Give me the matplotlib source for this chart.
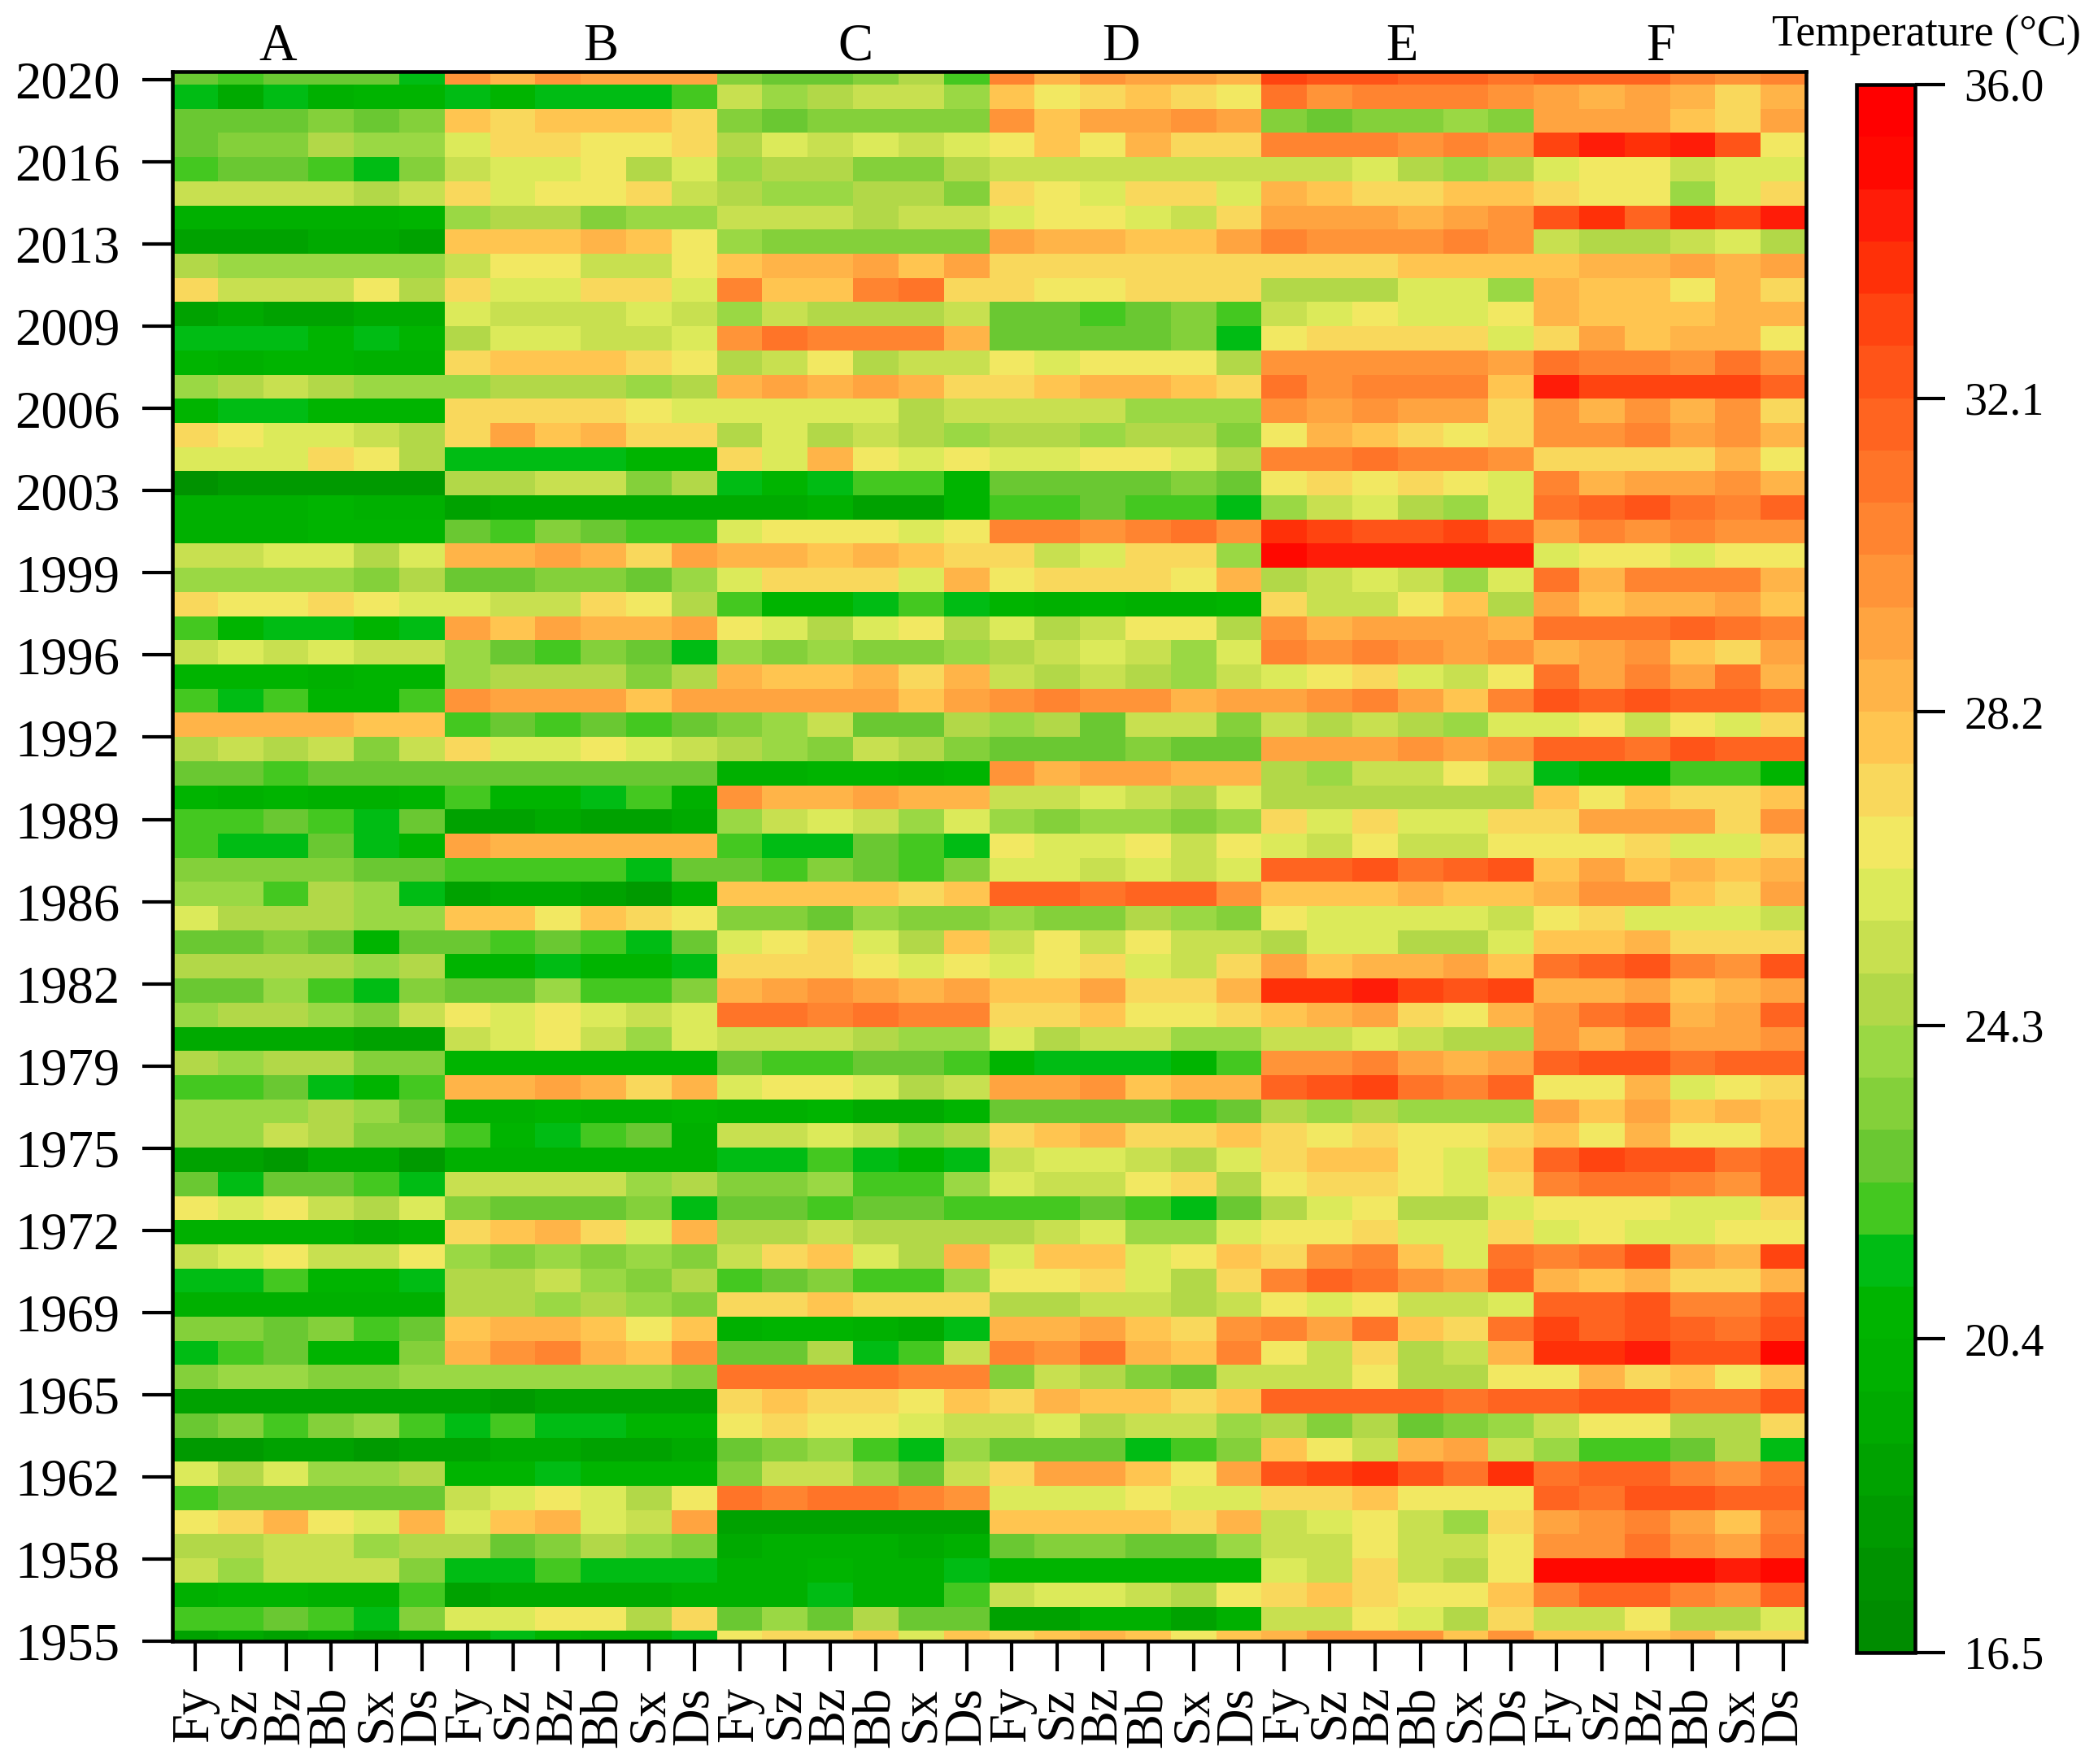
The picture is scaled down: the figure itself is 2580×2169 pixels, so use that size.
import numpy as np
import matplotlib
matplotlib.use("Agg")
import matplotlib.pyplot as plt
from matplotlib.colors import ListedColormap, BoundaryNorm
from matplotlib.transforms import blended_transform_factory

plt.rcParams['font.family'] = ['Liberation Serif', 'DejaVu Serif']

# ---------------- data ----------------
years = list(range(2020, 1954, -1))          # rows, top to bottom
groups = ["A", "B", "C", "D", "E", "F"]
sub_labels = ["Fy", "Sz", "Bz", "Bb", "Sx", "Ds"]
ytick_labels = ["2020", "2016", "2013", "2009", "2006", "2003", "1999", "1996",
                "1992", "1989", "1986", "1982", "1979", "1975", "1972", "1969",
                "1965", "1962", "1958", "1955"]
cbar_ticks = [16.5, 20.4, 24.3, 28.2, 32.1, 36.0]
cbar_colors = ["#008C00", "#009200", "#009A00", "#00A200", "#00AA00", "#00B000",
               "#00B400", "#00BC14", "#44C820", "#6AC832", "#84D03A", "#9AD844",
               "#B2D848", "#C8E050", "#DCEA5A", "#F2E862", "#F9D85C", "#FFC550",
               "#FFB448", "#FFA440", "#FF9438", "#FF8430", "#FF7428", "#FF6420",
               "#FF5418", "#FF4410", "#FF3008", "#FF1C08", "#FF0800", "#FF0000"]

A = [
    [22.7, 22, 22.7, 22.7, 22.7, 21.4],  # 2020
    [21.4, 19.4, 21.4, 20.1, 20.7, 20.7],
    [22.7, 22.7, 22.7, 23.3, 22.7, 23.3],
    [22.7, 23.3, 23.3, 24.6, 24, 24],
    [22, 22.7, 22.7, 22, 21.4, 23.3],
    [25.3, 25.3, 25.3, 25.3, 24.6, 25.3],
    [20.1, 20.1, 20.1, 20.1, 20.1, 20.7],
    [18.8, 18.8, 18.8, 19.4, 19.4, 18.8],
    [24.6, 24, 24, 24, 24, 24],
    [27.2, 25.3, 25.3, 25.3, 26.6, 24.6],
    [18.8, 19.4, 18.8, 18.8, 19.4, 19.4],  # 2010
    [21.4, 21.4, 21.4, 20.7, 21.4, 20.7],
    [20.7, 20.1, 20.7, 20.7, 20.1, 20.1],
    [24, 24.6, 25.3, 24.6, 24, 24],
    [20.7, 21.4, 21.4, 20.7, 20.7, 20.7],
    [27.2, 26.6, 25.9, 25.9, 25.3, 24.6],
    [25.9, 25.9, 25.9, 27.2, 26.6, 24.6],
    [17.5, 18.1, 18.1, 18.1, 18.1, 18.1],
    [20.1, 20.1, 20.1, 20.7, 20.1, 20.1],
    [20.1, 20.1, 20.1, 20.7, 20.7, 20.7],
    [25.3, 25.3, 25.9, 25.9, 24.6, 25.9],  # 2000
    [24, 24, 24, 24, 23.3, 24.6],
    [27.2, 26.6, 26.6, 27.2, 26.6, 25.9],
    [22, 20.7, 21.4, 21.4, 20.7, 21.4],
    [25.3, 25.9, 25.3, 25.9, 25.3, 25.3],
    [20.7, 20.7, 20.7, 20.1, 20.7, 20.7],
    [22, 21.4, 22, 20.7, 20.7, 22],
    [28.5, 28.5, 28.5, 28.5, 27.9, 27.9],
    [24.6, 25.3, 24.6, 25.3, 23.3, 25.3],
    [22.7, 22.7, 22, 22.7, 22.7, 22.7],
    [20.7, 20.1, 20.7, 20.1, 20.1, 20.7],  # 1990
    [22, 22, 22.7, 22, 21.4, 22.7],
    [22, 21.4, 21.4, 22.7, 21.4, 20.7],
    [23.3, 23.3, 23.3, 23.3, 22.7, 22.7],
    [24, 24, 22, 24.6, 24, 21.4],
    [25.9, 24.6, 24.6, 24.6, 24, 24],
    [22.7, 22.7, 23.3, 22.7, 20.7, 22.7],
    [24.6, 24.6, 24.6, 24.6, 24, 24.6],
    [22.7, 22.7, 24, 22, 21.4, 23.3],
    [24, 24.6, 24.6, 24, 23.3, 25.3],
    [19.4, 19.4, 19.4, 19.4, 18.8, 18.8],  # 1980
    [24.6, 24, 24.6, 24.6, 23.3, 23.3],
    [22, 22, 22.7, 21.4, 20.7, 22],
    [24, 24, 24, 24.6, 24, 22.7],
    [24, 24, 25.3, 24.6, 23.3, 23.3],
    [18.8, 18.8, 18.1, 19.4, 19.4, 18.1],
    [22.7, 21.4, 22.7, 22.7, 22, 21.4],
    [26.6, 25.9, 26.6, 25.3, 24.6, 25.9],
    [20.1, 20.1, 20.1, 20.1, 19.4, 20.1],
    [25.3, 25.9, 26.6, 25.3, 25.3, 26.6],
    [21.4, 21.4, 22, 20.7, 20.7, 21.4],  # 1970
    [20.1, 20.1, 20.1, 20.1, 20.1, 20.1],
    [23.3, 23.3, 22.7, 23.3, 22, 22.7],
    [21.4, 22, 22.7, 20.7, 20.7, 23.3],
    [23.3, 24, 24, 23.3, 23.3, 24],
    [18.8, 18.8, 18.8, 18.8, 18.8, 18.8],
    [22.7, 23.3, 22, 23.3, 24, 22],
    [18.1, 18.1, 18.8, 18.8, 18.1, 18.8],
    [25.9, 24.6, 25.9, 24, 24, 24.6],
    [22, 22.7, 22.7, 22.7, 22.7, 22.7],
    [26.6, 27.2, 28.5, 26.6, 25.9, 28.5],  # 1960
    [24.6, 24.6, 25.3, 25.3, 24, 24.6],
    [25.3, 24, 25.3, 25.3, 25.3, 23.3],
    [20.1, 20.7, 20.7, 20.1, 20.1, 22],
    [22, 22, 22.7, 22, 21.4, 23.3],
    [18.8, 19.4, 18.8, 19.4, 18.8, 19.4],  # 1955
]

B = [
    [29.8, 28.5, 29.8, 29.2, 29.2, 29.2],  # 2020
    [21.4, 20.7, 21.4, 21.4, 21.4, 22],
    [27.9, 27.2, 27.9, 27.9, 27.9, 27.2],
    [25.9, 27.2, 27.2, 26.6, 26.6, 27.2],
    [25.3, 25.9, 25.9, 26.6, 24.6, 25.9],
    [27.2, 25.9, 26.6, 26.6, 27.2, 25.3],
    [24, 24.6, 24.6, 23.3, 24, 24],
    [27.9, 27.9, 27.9, 28.5, 27.9, 26.6],
    [25.3, 26.6, 26.6, 25.3, 25.3, 26.6],
    [27.2, 25.9, 25.9, 27.2, 27.2, 25.9],
    [25.9, 25.3, 25.3, 25.3, 25.9, 25.3],  # 2010
    [24.6, 25.9, 25.9, 25.3, 25.3, 25.9],
    [27.2, 27.9, 27.9, 27.9, 27.2, 26.6],
    [24, 24.6, 24.6, 24.6, 24, 24.6],
    [27.2, 27.2, 27.2, 27.2, 26.6, 25.9],
    [27.2, 29.2, 27.9, 28.5, 27.2, 27.2],
    [21.4, 21.4, 21.4, 21.4, 20.7, 20.7],
    [24.6, 24.6, 25.3, 25.3, 23.3, 24.6],
    [18.8, 19.4, 19.4, 19.4, 19.4, 19.4],
    [22.7, 22, 23.3, 22.7, 22, 22],
    [28.5, 28.5, 29.2, 28.5, 27.2, 29.2],  # 2000
    [22.7, 22.7, 23.3, 23.3, 22.7, 24],
    [25.9, 25.3, 25.3, 27.2, 26.6, 24.6],
    [29.2, 27.9, 29.2, 28.5, 28.5, 29.2],
    [24, 22.7, 22, 23.3, 22.7, 21.4],
    [24, 24.6, 24.6, 24.6, 23.3, 24.6],
    [29.8, 29.2, 29.2, 29.2, 27.9, 29.2],
    [22, 22.7, 22, 22.7, 22, 22.7],
    [27.2, 25.9, 25.9, 26.6, 25.9, 25.3],
    [22.7, 22.7, 22.7, 22.7, 22.7, 22.7],
    [22, 20.7, 20.7, 21.4, 22, 20.1],  # 1990
    [18.8, 18.8, 19.4, 18.8, 18.8, 19.4],
    [29.2, 28.5, 28.5, 28.5, 28.5, 28.5],
    [22, 22, 22, 22, 21.4, 22.7],
    [18.8, 19.4, 19.4, 18.8, 18.1, 20.1],
    [27.9, 27.9, 26.6, 27.9, 27.2, 26.6],
    [22.7, 22, 22.7, 22, 21.4, 22.7],
    [20.7, 20.7, 21.4, 20.7, 20.7, 21.4],
    [22.7, 22.7, 24, 22, 22, 23.3],
    [26.6, 25.9, 26.6, 25.9, 25.3, 25.9],
    [25.3, 25.9, 26.6, 25.3, 24, 25.9],  # 1980
    [20.7, 20.7, 20.7, 20.7, 20.7, 20.7],
    [28.5, 28.5, 29.2, 28.5, 27.2, 28.5],
    [20.1, 20.1, 20.7, 20.1, 20.1, 20.7],
    [22, 20.7, 21.4, 22, 22.7, 20.1],
    [20.1, 20.1, 20.1, 20.1, 20.1, 20.1],
    [25.3, 25.3, 25.3, 25.3, 24, 24.6],
    [23.3, 22.7, 22.7, 22.7, 23.3, 21.4],
    [27.2, 27.9, 28.5, 27.2, 25.9, 28.5],
    [24, 23.3, 24, 23.3, 24, 23.3],
    [24.6, 24.6, 25.3, 24, 23.3, 24.6],  # 1970
    [24.6, 24.6, 24, 24.6, 24, 23.3],
    [27.9, 28.5, 28.5, 27.9, 26.6, 27.9],
    [28.5, 29.8, 30.5, 28.5, 27.9, 29.8],
    [24, 24, 24, 24, 24, 23.3],
    [18.8, 18.1, 18.8, 18.8, 18.8, 18.8],
    [21.4, 22, 21.4, 21.4, 20.7, 20.7],
    [18.8, 19.4, 19.4, 18.8, 18.8, 19.4],
    [20.7, 20.7, 21.4, 20.7, 20.7, 20.7],
    [25.3, 25.9, 26.6, 25.9, 24.6, 26.6],
    [25.9, 27.9, 28.5, 25.9, 25.3, 29.2],  # 1960
    [24.6, 22.7, 23.3, 24.6, 24, 23.3],
    [21.4, 21.4, 22, 21.4, 21.4, 21.4],
    [18.8, 19.4, 19.4, 19.4, 19.4, 20.1],
    [25.9, 25.9, 26.6, 26.6, 24.6, 27.2],
    [19.4, 21.4, 20.7, 20.1, 20.1, 21.4],  # 1955
]

C = [
    [23.3, 22.7, 22.7, 23.3, 24.6, 22],  # 2020
    [25.3, 24, 24.6, 25.3, 25.3, 24],
    [23.3, 22.7, 23.3, 23.3, 23.3, 23.3],
    [24.6, 25.9, 25.3, 25.9, 25.3, 25.9],
    [24, 24.6, 24.6, 23.3, 23.3, 24.6],
    [24.6, 24, 24, 24.6, 24.6, 23.3],
    [25.3, 25.3, 25.3, 24.6, 25.3, 25.3],
    [24, 23.3, 23.3, 23.3, 23.3, 23.3],
    [27.9, 28.5, 28.5, 29.2, 27.9, 29.2],
    [30.5, 27.9, 27.9, 30.5, 31.1, 27.2],
    [24, 25.3, 24.6, 24.6, 24.6, 25.3],  # 2010
    [29.8, 31.1, 30.5, 30.5, 30.5, 28.5],
    [24.6, 25.3, 26.6, 24.6, 25.3, 25.3],
    [28.5, 29.2, 28.5, 29.2, 28.5, 27.2],
    [25.9, 25.9, 25.9, 25.9, 24.6, 25.3],
    [24.6, 25.9, 24.6, 25.3, 24.6, 24],
    [27.2, 25.9, 28.5, 26.6, 25.9, 26.6],
    [21.4, 20.7, 21.4, 22, 22, 20.7],
    [19.4, 19.4, 20.1, 18.8, 18.8, 20.7],
    [25.9, 26.6, 26.6, 26.6, 25.9, 26.6],
    [28.5, 28.5, 27.9, 28.5, 27.9, 27.2],  # 2000
    [25.9, 27.2, 27.2, 27.2, 25.9, 28.5],
    [22, 20.7, 20.7, 21.4, 22, 21.4],
    [26.6, 25.9, 24.6, 25.9, 26.6, 24.6],
    [24, 23.3, 24, 23.3, 23.3, 24],
    [28.5, 27.9, 27.9, 28.5, 27.2, 28.5],
    [29.2, 29.2, 29.2, 29.2, 27.9, 29.2],
    [23.3, 24, 25.3, 22.7, 22.7, 24.6],
    [24.6, 24, 23.3, 25.3, 24.6, 23.3],
    [20.1, 20.1, 20.7, 20.7, 20.1, 20.7],
    [29.8, 28.5, 28.5, 29.2, 28.5, 28.5],  # 1990
    [24, 25.3, 25.9, 25.3, 24, 25.9],
    [22, 21.4, 21.4, 22.7, 22, 21.4],
    [22.7, 22, 23.3, 22.7, 22, 23.3],
    [27.9, 27.9, 27.9, 27.9, 27.2, 27.9],
    [23.3, 23.3, 22.7, 24, 23.3, 23.3],
    [25.9, 26.6, 27.2, 25.9, 24.6, 27.9],
    [27.2, 27.2, 27.2, 26.6, 25.9, 26.6],
    [28.5, 29.2, 29.8, 29.2, 28.5, 29.2],
    [31.1, 31.1, 30.5, 31.1, 30.5, 30.5],
    [25.3, 25.3, 25.3, 24.6, 24, 24],  # 1980
    [22.7, 22, 22, 22.7, 22.7, 22],
    [25.9, 26.6, 26.6, 25.9, 24.6, 25.3],
    [20.1, 20.1, 20.7, 19.4, 19.4, 20.7],
    [25.3, 25.3, 25.9, 25.3, 24, 24.6],
    [21.4, 21.4, 22, 21.4, 20.7, 21.4],
    [23.3, 23.3, 24, 22, 22, 24],
    [22.7, 22.7, 22, 22.7, 22.7, 22],
    [24.6, 24.6, 25.3, 24.6, 24.6, 24.6],
    [25.3, 27.2, 27.9, 25.9, 24.6, 28.5],
    [22, 22.7, 23.3, 22, 22, 24],  # 1970
    [27.2, 27.2, 27.9, 27.2, 27.2, 27.2],
    [20.1, 20.7, 20.7, 20.1, 19.4, 21.4],
    [22.7, 22.7, 24.6, 21.4, 22, 25.3],
    [31.1, 31.1, 31.1, 31.1, 30.5, 30.5],
    [27.2, 27.9, 27.2, 27.2, 26.6, 27.9],
    [26.6, 27.2, 26.6, 26.6, 25.9, 25.3],
    [22.7, 23.3, 24, 22, 21.4, 24],
    [23.3, 25.3, 25.3, 24, 22.7, 25.3],
    [31.1, 30.5, 31.1, 31.1, 30.5, 29.8],
    [18.8, 18.8, 18.8, 18.8, 18.8, 18.8],  # 1960
    [19.4, 20.1, 20.1, 20.1, 19.4, 20.1],
    [20.1, 20.1, 20.7, 20.1, 20.1, 21.4],
    [20.1, 20.1, 21.4, 20.1, 20.1, 22],
    [22.7, 24, 22.7, 24.6, 22.7, 22.7],
    [26.6, 27.2, 27.2, 27.9, 25.9, 27.9],  # 1955
]

D = [
    [30.5, 28.5, 29.8, 29.2, 29.2, 28.5],  # 2020
    [27.9, 26.6, 27.2, 27.9, 27.2, 26.6],
    [29.8, 27.9, 29.2, 29.2, 29.8, 29.2],
    [26.6, 27.9, 26.6, 28.5, 27.2, 27.2],
    [25.3, 25.3, 25.3, 25.3, 25.3, 25.3],
    [27.2, 26.6, 25.9, 27.2, 27.2, 25.9],
    [25.9, 26.6, 26.6, 25.9, 25.3, 27.2],
    [29.2, 28.5, 28.5, 27.9, 27.9, 29.2],
    [27.2, 27.2, 27.2, 27.2, 27.2, 27.2],
    [27.2, 26.6, 26.6, 27.2, 27.2, 27.2],
    [22.7, 22.7, 22, 22.7, 23.3, 22],  # 2010
    [22.7, 22.7, 22.7, 22.7, 23.3, 21.4],
    [26.6, 25.9, 26.6, 26.6, 26.6, 24.6],
    [27.2, 27.9, 28.5, 28.5, 27.9, 27.2],
    [25.3, 25.3, 25.3, 24, 24, 24],
    [24.6, 24.6, 24, 24.6, 24.6, 23.3],
    [25.9, 25.9, 26.6, 26.6, 25.9, 24.6],
    [22.7, 22.7, 22.7, 22.7, 23.3, 22.7],
    [22, 22, 22.7, 22, 22, 21.4],
    [30.5, 30.5, 29.8, 30.5, 31.1, 29.8],
    [27.2, 25.3, 25.9, 27.2, 27.2, 24],  # 2000
    [26.6, 27.2, 27.2, 27.2, 26.6, 28.5],
    [20.7, 20.1, 20.7, 20.1, 20.1, 20.7],
    [25.9, 24.6, 25.3, 26.6, 26.6, 24.6],
    [24.6, 25.3, 25.9, 25.3, 24, 25.9],
    [25.3, 24.6, 25.3, 24.6, 24, 25.3],
    [29.8, 30.5, 29.8, 29.8, 28.5, 29.2],
    [24, 24.6, 22.7, 25.3, 25.3, 23.3],
    [22.7, 22.7, 22.7, 23.3, 22.7, 22.7],
    [29.8, 28.5, 29.2, 29.2, 28.5, 28.5],
    [25.3, 25.3, 25.9, 25.3, 24.6, 25.9],  # 1990
    [24, 23.3, 24, 24, 23.3, 24],
    [26.6, 25.9, 25.9, 26.6, 25.3, 26.6],
    [25.9, 25.9, 25.3, 25.9, 25.3, 25.9],
    [31.8, 31.8, 31.1, 31.8, 31.8, 29.8],
    [24, 23.3, 23.3, 24.6, 24, 23.3],
    [25.3, 26.6, 25.3, 26.6, 25.3, 25.3],
    [25.9, 26.6, 27.2, 25.9, 25.3, 27.2],
    [27.9, 27.9, 29.2, 27.2, 27.2, 28.5],
    [27.2, 27.2, 27.9, 26.6, 26.6, 27.2],
    [25.9, 24.6, 25.3, 25.3, 24, 24],  # 1980
    [20.7, 21.4, 21.4, 21.4, 20.7, 22],
    [29.2, 29.2, 29.8, 27.9, 28.5, 28.5],
    [22.7, 22.7, 22.7, 22.7, 22, 22.7],
    [27.2, 27.9, 28.5, 27.2, 27.2, 27.9],
    [25.3, 25.9, 25.9, 25.3, 24.6, 25.9],
    [25.9, 25.3, 25.3, 26.6, 27.2, 24.6],
    [22, 22, 22.7, 22, 21.4, 22.7],
    [24.6, 25.3, 25.9, 24, 24, 25.9],
    [25.9, 27.9, 27.9, 25.9, 26.6, 27.9],
    [26.6, 26.6, 27.2, 25.9, 24.6, 27.2],  # 1970
    [24.6, 24.6, 25.3, 25.3, 24.6, 25.3],
    [28.5, 28.5, 29.2, 27.9, 27.2, 29.8],
    [30.5, 29.8, 31.1, 28.5, 27.9, 30.5],
    [23.3, 25.3, 24.6, 23.3, 22.7, 25.3],
    [27.2, 28.5, 27.9, 27.9, 27.2, 27.9],
    [25.3, 25.9, 24.6, 25.3, 25.3, 24],
    [22.7, 22.7, 22.7, 21.4, 22, 23.3],
    [27.2, 29.2, 29.2, 27.9, 26.6, 29.2],
    [25.9, 25.9, 25.9, 26.6, 25.9, 25.9],
    [27.9, 27.9, 27.9, 27.9, 27.2, 28.5],  # 1960
    [22.7, 23.3, 23.3, 22.7, 22.7, 24],
    [20.7, 20.7, 20.7, 20.7, 20.7, 20.7],
    [25.3, 25.9, 25.9, 25.3, 24.6, 26.6],
    [18.8, 18.8, 20.1, 20.1, 18.8, 20.1],
    [27.2, 27.9, 28.5, 27.9, 26.6, 27.9],  # 1955
]

E = [
    [33.1, 32.4, 32.4, 31.8, 31.8, 31.1],  # 2020
    [31.1, 29.8, 30.5, 30.5, 30.5, 29.8],
    [23.3, 22.7, 23.3, 23.3, 24, 23.3],
    [30.5, 30.5, 30.5, 29.8, 30.5, 29.8],
    [25.3, 25.3, 25.9, 24.6, 24, 24.6],
    [28.5, 27.9, 27.2, 27.2, 27.9, 27.9],
    [29.2, 29.2, 29.2, 28.5, 29.2, 29.8],
    [30.5, 29.8, 29.8, 29.8, 30.5, 29.8],
    [27.2, 27.2, 27.2, 27.9, 27.9, 27.9],
    [24.6, 24.6, 24.6, 25.9, 25.9, 24],
    [25.3, 25.9, 26.6, 25.9, 25.9, 26.6],  # 2010
    [26.6, 27.2, 27.2, 27.2, 27.2, 25.9],
    [29.8, 29.8, 29.8, 29.8, 29.8, 29.2],
    [31.1, 29.8, 30.5, 30.5, 30.5, 27.9],
    [29.8, 29.2, 29.8, 29.2, 29.2, 27.2],
    [26.6, 28.5, 27.9, 27.2, 26.6, 27.2],
    [30.5, 30.5, 31.1, 30.5, 30.5, 29.8],
    [26.6, 27.2, 26.6, 27.2, 26.6, 25.9],
    [24, 25.3, 25.9, 24.6, 24, 25.9],
    [33.7, 33.1, 32.4, 32.4, 33.1, 31.8],
    [35, 34.4, 34.4, 34.4, 34.4, 34.4],  # 2000
    [24.6, 25.3, 25.9, 25.3, 24, 25.9],
    [27.2, 25.3, 25.3, 26.6, 27.9, 24.6],
    [29.8, 28.5, 29.2, 29.2, 29.2, 28.5],
    [30.5, 29.8, 30.5, 29.8, 29.2, 29.8],
    [25.9, 26.6, 27.2, 25.9, 25.3, 26.6],
    [29.2, 29.8, 30.5, 29.2, 27.9, 30.5],
    [25.3, 24.6, 25.3, 24.6, 24, 25.9],
    [29.2, 29.2, 29.2, 29.8, 29.2, 29.8],
    [24.6, 24, 25.3, 25.3, 26.6, 25.3],
    [24.6, 24.6, 24.6, 24.6, 24.6, 24.6],  # 1990
    [27.2, 25.9, 27.2, 25.9, 25.9, 27.2],
    [25.9, 25.3, 26.6, 25.3, 25.3, 26.6],
    [31.8, 31.8, 32.4, 31.1, 31.8, 32.4],
    [27.9, 27.9, 27.9, 28.5, 27.9, 27.9],
    [26.6, 25.9, 25.9, 25.9, 25.9, 25.3],
    [24.6, 25.9, 25.9, 24.6, 24.6, 25.9],
    [29.2, 27.9, 28.5, 28.5, 29.2, 27.9],
    [33.7, 33.7, 34.4, 33.1, 32.4, 33.1],
    [27.9, 28.5, 29.2, 27.2, 26.6, 28.5],
    [25.3, 25.3, 25.9, 25.3, 24.6, 24.6],  # 1980
    [29.8, 29.8, 30.5, 29.2, 28.5, 29.2],
    [31.8, 32.4, 33.1, 31.1, 30.5, 31.8],
    [24.6, 24, 24.6, 24, 24, 24],
    [27.2, 26.6, 27.2, 26.6, 26.6, 27.2],
    [27.2, 27.9, 27.9, 26.6, 25.9, 27.9],
    [26.6, 27.2, 27.2, 26.6, 25.9, 27.2],
    [24.6, 25.9, 26.6, 24.6, 24.6, 25.9],
    [26.6, 26.6, 27.2, 25.9, 25.9, 27.2],
    [27.2, 29.8, 30.5, 27.9, 25.9, 31.1],
    [30.5, 31.8, 31.1, 29.8, 29.2, 31.8],  # 1970
    [26.6, 25.9, 26.6, 25.3, 25.3, 25.9],
    [30.5, 29.2, 31.1, 27.9, 27.2, 31.1],
    [26.6, 25.3, 27.2, 24.6, 25.3, 28.5],
    [25.3, 25.3, 26.6, 24.6, 24.6, 26.6],
    [31.8, 31.8, 31.8, 31.8, 31.1, 31.8],
    [24.6, 23.3, 24.6, 22.7, 23.3, 24],
    [27.9, 26.6, 25.3, 28.5, 29.2, 25.3],
    [32.4, 33.1, 33.7, 32.4, 31.1, 33.7],
    [27.2, 27.2, 27.9, 26.6, 26.6, 26.6],
    [25.3, 25.9, 26.6, 25.3, 24, 27.2],  # 1960
    [25.3, 25.3, 26.6, 25.3, 25.3, 26.6],
    [25.9, 25.3, 27.2, 25.3, 24.6, 26.6],
    [27.2, 27.9, 27.2, 26.6, 26.6, 27.9],
    [25.3, 25.3, 26.6, 25.9, 24.6, 27.2],
    [28.5, 29.8, 29.8, 29.8, 27.9, 29.8],  # 1955
]

F = [
    [31.8, 31.8, 31.8, 30.5, 29.8, 30.5],  # 2020
    [29.2, 28.5, 29.2, 28.5, 27.2, 28.5],
    [29.2, 29.2, 29.2, 27.9, 27.2, 29.2],
    [33.1, 34.4, 33.7, 34.4, 32.4, 26.6],
    [25.9, 26.6, 26.6, 25.3, 25.9, 25.9],
    [27.2, 26.6, 26.6, 24, 25.9, 27.2],
    [32.4, 33.7, 31.8, 33.7, 33.1, 34.4],
    [25.3, 24.6, 24.6, 25.3, 25.9, 24.6],
    [27.9, 28.5, 28.5, 29.2, 28.5, 29.2],
    [28.5, 27.9, 27.9, 26.6, 28.5, 27.2],
    [28.5, 27.9, 27.9, 27.9, 28.5, 28.5],  # 2010
    [27.2, 29.2, 27.9, 28.5, 28.5, 26.6],
    [31.1, 30.5, 30.5, 29.8, 31.1, 29.8],
    [34.4, 33.1, 33.1, 33.1, 33.1, 31.8],
    [29.8, 28.5, 29.8, 28.5, 29.8, 27.2],
    [29.8, 29.8, 30.5, 29.2, 29.8, 28.5],
    [27.2, 27.2, 27.2, 27.2, 28.5, 26.6],
    [30.5, 28.5, 29.2, 29.2, 29.8, 28.5],
    [31.1, 31.8, 32.4, 31.1, 30.5, 31.8],
    [29.2, 30.5, 29.8, 30.5, 29.8, 29.8],
    [25.9, 26.6, 26.6, 25.9, 26.6, 26.6],  # 2000
    [31.1, 28.5, 30.5, 30.5, 30.5, 28.5],
    [29.2, 27.9, 28.5, 28.5, 29.2, 27.9],
    [31.1, 31.1, 31.1, 31.8, 31.1, 30.5],
    [28.5, 29.2, 29.8, 27.9, 27.2, 29.2],
    [31.1, 29.2, 30.5, 29.2, 31.1, 28.5],
    [32.4, 31.8, 32.4, 31.8, 31.8, 31.1],
    [25.9, 26.6, 25.3, 26.6, 25.9, 27.2],
    [31.8, 31.8, 31.1, 32.4, 31.8, 31.8],
    [21.4, 20.7, 20.7, 22, 22, 20.7],
    [27.9, 26.6, 27.9, 27.2, 27.2, 27.9],  # 1990
    [27.2, 29.2, 29.2, 29.2, 27.2, 29.8],
    [26.6, 26.6, 27.2, 25.9, 25.9, 27.2],
    [27.9, 29.2, 27.9, 28.5, 27.9, 28.5],
    [28.5, 29.8, 29.8, 27.9, 27.2, 29.2],
    [26.6, 27.2, 25.9, 25.9, 25.9, 25.3],
    [27.9, 27.9, 28.5, 27.2, 27.2, 27.2],
    [31.1, 31.8, 32.4, 30.5, 29.8, 32.4],
    [28.5, 28.5, 29.2, 27.9, 28.5, 29.2],
    [29.8, 31.1, 31.8, 28.5, 29.2, 31.8],
    [29.8, 28.5, 29.8, 29.2, 29.2, 29.8],  # 1980
    [31.8, 32.4, 32.4, 31.1, 31.8, 31.8],
    [26.6, 26.6, 28.5, 25.9, 26.6, 27.2],
    [29.2, 27.9, 29.2, 27.9, 28.5, 27.9],
    [27.9, 26.6, 28.5, 26.6, 26.6, 27.9],
    [31.8, 33.1, 32.4, 32.4, 31.1, 31.8],
    [30.5, 31.1, 31.1, 30.5, 29.8, 31.8],
    [26.6, 26.6, 26.6, 25.9, 25.9, 27.2],
    [25.9, 26.6, 25.9, 25.9, 26.6, 26.6],
    [30.5, 31.1, 32.4, 29.2, 28.5, 33.1],
    [28.5, 27.9, 28.5, 27.2, 27.2, 28.5],  # 1970
    [31.8, 31.8, 32.4, 30.5, 30.5, 31.8],
    [33.1, 31.8, 32.4, 31.8, 31.1, 32.4],
    [33.7, 33.7, 34.4, 32.4, 32.4, 35],
    [26.6, 28.5, 27.2, 27.9, 26.6, 27.9],
    [31.8, 32.4, 32.4, 31.1, 31.1, 32.4],
    [25.3, 26.6, 26.6, 24.6, 24.6, 27.2],
    [24, 22, 22, 22.7, 24.6, 21.4],
    [31.1, 31.8, 31.8, 30.5, 29.8, 31.1],
    [31.8, 31.1, 32.4, 32.4, 31.8, 31.8],
    [29.2, 29.8, 30.5, 29.2, 27.9, 30.5],  # 1960
    [29.8, 29.8, 31.1, 29.8, 29.2, 31.1],
    [35, 35, 35, 35, 34.4, 35],
    [30.5, 31.8, 31.8, 30.5, 29.8, 31.8],
    [25.3, 25.3, 26.6, 24.6, 24.6, 25.9],
    [27.9, 27.9, 27.9, 28.5, 27.2, 27.2],  # 1955
]

# ---------------- figure ----------------
W, H = 2580, 2169
fig = plt.figure(figsize=(W / 300, H / 300), dpi=300)
ax = fig.add_axes([212 / W, (H - 2018) / H, 2009 / W, 1930 / H])
cax = fig.add_axes([2283 / W, (H - 2032) / H, 72 / W, 1928 / H])

cmap = ListedColormap(cbar_colors)
bounds = np.linspace(cbar_ticks[0], cbar_ticks[-1], len(cbar_colors) + 1)
norm = BoundaryNorm(bounds, cmap.N)

Z = np.hstack([np.array(g, dtype=float) for g in (A, B, C, D, E, F)])
yr = np.array(years, dtype=float)
order = np.argsort(yr)
yr_sorted = yr[order]
Zs = Z[order]
yedges = np.concatenate([yr_sorted - 0.5, [yr_sorted[-1] + 0.5]])
xedges = np.arange(Z.shape[1] + 1)

mesh = ax.pcolormesh(xedges, yedges, Zs, cmap=cmap, norm=norm,
                     shading='flat', linewidth=0, antialiased=False)

ax.set_xlim(0, Z.shape[1])
ax.set_ylim(1955.07, 2020.04)

yt = np.linspace(1955.07, 2019.7, len(ytick_labels))
ax.set_yticks(yt)
ax.set_yticklabels(ytick_labels[::-1])
ax.set_xticks(np.arange(Z.shape[1]) + 0.5)
ax.set_xticklabels(sub_labels * len(groups), rotation=90)

ax.tick_params(axis='both', direction='out', length=8.9, width=1.0, colors='black')
ax.tick_params(axis='y', pad=6.5, labelsize=15.5)
ax.tick_params(axis='x', pad=4.5, labelsize=15.5)
for s in ax.spines.values():
    s.set_linewidth(1.1)

group_label_x = [2.33, 9.43, 15.05, 20.9, 27.1, 32.8]
trans = blended_transform_factory(ax.transData, ax.transAxes)
for name, gx in zip(groups, group_label_x):
    ax.text(gx, 1.0075, name, transform=trans, ha='center', va='baseline',
            fontsize=15.5)

cb = fig.colorbar(mesh, cax=cax, ticks=cbar_ticks)
cb.minorticks_off()
cb.set_ticks(cbar_ticks)
cb.set_ticklabels([f"{t:.1f}" for t in cbar_ticks])
cb.ax.tick_params(which='major', direction='out', length=8.9, width=1.0,
                  pad=5.5, labelsize=13.5)
cb.ax.tick_params(which='minor', length=0, width=0)
cb.outline.set_linewidth(1.1)

fig.text(2559 / W, 1 - 43 / H, "Temperature (°C)", ha='right', va='center',
         fontsize=13)

fig.savefig("out.png", dpi=300)
